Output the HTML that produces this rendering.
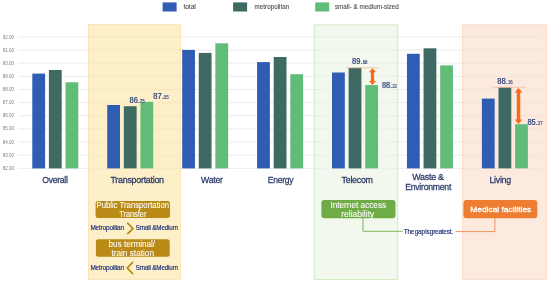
<!DOCTYPE html>
<html><head><meta charset="utf-8"><title>chart</title>
<style>
html,body{margin:0;padding:0;background:#fff;}
body{width:550px;height:284px;overflow:hidden;font-family:"Liberation Sans",sans-serif;}
svg{display:block}
text{font-family:"Liberation Sans",sans-serif;}
.ax{font-size:4.5px;fill:#7c7c7c;}
.lg{font-size:6.3px;fill:#484848;stroke:#484848;stroke-width:0.08px;}
.cat{font-size:9.6px;fill:#2B3A67;stroke:#2B3A67;stroke-width:0.27px;letter-spacing:-0.3px;}
.big{font-size:8.6px;fill:#2A3F78;stroke:#2A3F78;stroke-width:0.22px;}
.sm{font-size:4.9px;stroke-width:0.14px;}
.cw{font-size:8.2px;fill:#fff;stroke:#fff;stroke-width:0.08px;}
.cb{font-size:8px;fill:#fff;stroke:#fff;stroke-width:0.3px;}
.nv{font-size:6.6px;fill:#1B2F78;stroke:#1B2F78;stroke-width:0.17px;letter-spacing:-0.15px;}
.gp{font-size:7.3px;fill:#1C2F74;stroke:#1C2F74;stroke-width:0.16px;letter-spacing:-0.3px;word-spacing:-1.2px;}
</style></head><body>
<svg width="550" height="284" viewBox="0 0 550 284">
<rect width="550" height="284" fill="#fff"/>
<line x1="18" x2="543" y1="36.90" y2="36.90" stroke="#000" stroke-opacity="0.09" stroke-width="0.9"/>
<text class="ax" x="2.8" y="38.50">92.00</text>
<line x1="18" x2="543" y1="50.04" y2="50.04" stroke="#000" stroke-opacity="0.09" stroke-width="0.9"/>
<text class="ax" x="2.8" y="51.64">91.00</text>
<line x1="18" x2="543" y1="63.18" y2="63.18" stroke="#000" stroke-opacity="0.09" stroke-width="0.9"/>
<text class="ax" x="2.8" y="64.78">90.00</text>
<line x1="18" x2="543" y1="76.32" y2="76.32" stroke="#000" stroke-opacity="0.09" stroke-width="0.9"/>
<text class="ax" x="2.8" y="77.92">89.00</text>
<line x1="18" x2="543" y1="89.46" y2="89.46" stroke="#000" stroke-opacity="0.09" stroke-width="0.9"/>
<text class="ax" x="2.8" y="91.06">88.00</text>
<line x1="18" x2="543" y1="102.60" y2="102.60" stroke="#000" stroke-opacity="0.09" stroke-width="0.9"/>
<text class="ax" x="2.8" y="104.20">87.00</text>
<line x1="18" x2="543" y1="115.74" y2="115.74" stroke="#000" stroke-opacity="0.09" stroke-width="0.9"/>
<text class="ax" x="2.8" y="117.34">86.00</text>
<line x1="18" x2="543" y1="128.88" y2="128.88" stroke="#000" stroke-opacity="0.09" stroke-width="0.9"/>
<text class="ax" x="2.8" y="130.48">85.00</text>
<line x1="18" x2="543" y1="142.02" y2="142.02" stroke="#000" stroke-opacity="0.09" stroke-width="0.9"/>
<text class="ax" x="2.8" y="143.62">84.00</text>
<line x1="18" x2="543" y1="155.16" y2="155.16" stroke="#000" stroke-opacity="0.09" stroke-width="0.9"/>
<text class="ax" x="2.8" y="156.76">83.00</text>
<line x1="18" x2="543" y1="168.30" y2="168.30" stroke="#000" stroke-opacity="0.09" stroke-width="0.9"/>
<text class="ax" x="2.8" y="169.90">82.00</text>
<rect x="88.35" y="24.6" width="92.3" height="254.9" fill="#FCE4A3" fill-opacity="0.6" stroke="#F9E0A2" stroke-width="0.7"/>
<rect x="314.1" y="24.9" width="83.7" height="254.4" fill="#E9F3E3" fill-opacity="0.6" stroke="#BCE0A4" stroke-width="0.65"/>
<rect x="462.5" y="24.8" width="84.2" height="254.5" fill="#FCDCCA" fill-opacity="0.6" stroke="#FAD3BC" stroke-width="0.7"/>
<rect x="32.30" y="73.60" width="12.8" height="94.80" fill="#2F5DB4"/>
<rect x="48.90" y="70.00" width="12.8" height="98.40" fill="#3E6A63"/>
<rect x="65.50" y="82.30" width="12.8" height="86.10" fill="#61BC78"/>
<rect x="107.23" y="105.00" width="12.8" height="63.40" fill="#2F5DB4"/>
<rect x="123.83" y="106.20" width="12.8" height="62.20" fill="#3E6A63"/>
<rect x="140.43" y="101.80" width="12.8" height="66.60" fill="#61BC78"/>
<rect x="182.16" y="49.90" width="12.8" height="118.50" fill="#2F5DB4"/>
<rect x="198.76" y="52.90" width="12.8" height="115.50" fill="#3E6A63"/>
<rect x="215.36" y="43.30" width="12.8" height="125.10" fill="#61BC78"/>
<rect x="257.09" y="62.10" width="12.8" height="106.30" fill="#2F5DB4"/>
<rect x="273.69" y="57.00" width="12.8" height="111.40" fill="#3E6A63"/>
<rect x="290.29" y="74.20" width="12.8" height="94.20" fill="#61BC78"/>
<rect x="332.02" y="72.50" width="12.8" height="95.90" fill="#2F5DB4"/>
<rect x="348.62" y="67.80" width="12.8" height="100.60" fill="#3E6A63"/>
<rect x="365.22" y="85.10" width="12.8" height="83.30" fill="#61BC78"/>
<rect x="406.95" y="53.80" width="12.8" height="114.60" fill="#2F5DB4"/>
<rect x="423.55" y="48.30" width="12.8" height="120.10" fill="#3E6A63"/>
<rect x="440.15" y="65.40" width="12.8" height="103.00" fill="#61BC78"/>
<rect x="481.88" y="98.60" width="12.8" height="69.80" fill="#2F5DB4"/>
<rect x="498.48" y="87.30" width="12.8" height="81.10" fill="#3E6A63"/>
<rect x="515.08" y="124.20" width="12.8" height="44.20" fill="#61BC78"/>
<rect x="162.6" y="2.4" width="14" height="9.1" fill="#2F5DB4"/>
<text class="lg" transform="translate(183.4 8.9) scale(1.0415 1)">total</text>
<rect x="233.1" y="2.4" width="14" height="9.1" fill="#3E6A63"/>
<text class="lg" transform="translate(254.6 8.9) scale(0.9986 1)">metropolitan</text>
<rect x="315.2" y="2.4" width="14" height="9.1" fill="#61BC78"/>
<text class="lg" transform="translate(334.9 8.9) scale(1.0050 1)">small- &amp; medium-sized</text>
<text class="cat" transform="translate(42.2 183.2) scale(0.8996 1)">Overall</text>
<text class="cat" transform="translate(110.5 183.2) scale(0.9300 1)">Transportation</text>
<text class="cat" transform="translate(201.1 183.2) scale(0.9060 1)">Water</text>
<text class="cat" transform="translate(267.8 183.2) scale(0.8866 1)">Energy</text>
<text class="cat" transform="translate(341.6 183.2) scale(0.9254 1)">Telecom</text>
<text class="cat" transform="translate(489.5 183.2) scale(0.9149 1)">Living</text>
<text class="cat" transform="translate(412.3 180.4) scale(0.9309 1)">Waste &amp;</text>
<text class="cat" transform="translate(405.2 190.4) scale(0.9064 1)">Environment</text>
<text class="big" transform="translate(129.5 102.7) scale(0.8657 1)">86.<tspan class="sm">75</tspan></text>
<text class="big" transform="translate(153.2 99.1) scale(0.8827 1)">87.<tspan class="sm">05</tspan></text>
<text class="big" transform="translate(352.1 64.3) scale(0.8827 1)">89.<tspan class="sm">68</tspan></text>
<text class="big" transform="translate(382.0 88.4) scale(0.8487 1)">88.<tspan class="sm">32</tspan></text>
<text class="big" transform="translate(497.2 83.8) scale(0.8940 1)">88.<tspan class="sm">16</tspan></text>
<text class="big" transform="translate(527.4 125.3) scale(0.8714 1)">85.<tspan class="sm">37</tspan></text>
<line x1="346.5" x2="379" y1="67.8" y2="67.8" stroke="#F6BE98" stroke-width="0.8"/>
<line x1="492.3" x2="526" y1="87.3" y2="87.3" stroke="#F6BE98" stroke-width="0.8"/>
<path d="M372.5 68.3 L376.0 72.2 L374.15 72.2 L374.15 81.1 L376.0 81.1 L372.5 85.0 L369.0 81.1 L370.85 81.1 L370.85 72.2 L369.0 72.2 Z" fill="#F86A17"/>
<path d="M518.5 88 L522.3 92.4 L520.25 92.4 L520.25 119.6 L522.3 119.6 L518.5 124 L514.7 119.6 L516.75 119.6 L516.75 92.4 L514.7 92.4 Z" fill="#F86A17"/>
<rect x="95.6" y="201" width="74.4" height="16.9" rx="2.5" fill="#B98A15"/>
<text class="cw" transform="translate(96.6 207.6) scale(0.9424 1)">Public Transportation</text>
<text class="cw" transform="translate(119.2 216.5) scale(0.9030 1)">Transfer</text>
<rect x="95.9" y="239.3" width="73.8" height="17.4" rx="2.5" fill="#B98A15"/>
<text class="cw" transform="translate(108.6 246.7) scale(0.9917 1)">bus terminal/</text>
<text class="cw" transform="translate(111.4 255.6) scale(1.0077 1)">train station</text>
<text class="nv" transform="translate(90.4 230.1) scale(0.9723 1)">Metropolitan</text>
<text class="nv" transform="translate(135.8 230.1) scale(0.9493 1)">Small &amp;Medium</text>
<text class="nv" transform="translate(90.4 270.4) scale(0.9723 1)">Metropolitan</text>
<text class="nv" transform="translate(135.8 270.4) scale(0.9493 1)">Small &amp;Medium</text>
<path d="M127.3 222.8 L133 228.4 L127.3 234.2" fill="none" stroke="#B98A15" stroke-width="1.8"/>
<path d="M133 262 L127.3 268 L133 274" fill="none" stroke="#B98A15" stroke-width="1.8"/>
<rect x="321.4" y="200.1" width="74.1" height="18.1" rx="3" fill="#6FAC46"/>
<text class="cw" transform="translate(330.4 207.5) scale(1.0048 1)">Internet access</text>
<text class="cw" transform="translate(341.2 216.6) scale(1.0380 1)">reliability</text>
<path d="M363 218 L363 231.3 L402.8 231.3" fill="none" stroke="#7DB858" stroke-width="1"/>
<rect x="463.4" y="200.1" width="73.9" height="18.1" rx="3" fill="#ED7D31"/>
<text class="cb" transform="translate(470.3 212.1) scale(1.0472 1)">Medical facilities</text>
<path d="M494.9 218 L494.9 231.6 L455.6 231.6" fill="none" stroke="#F0935A" stroke-width="1"/>
<text class="gp" transform="translate(403.8 234.3) scale(0.8955 1)">The gap is greatest.</text>
</svg></body></html>
